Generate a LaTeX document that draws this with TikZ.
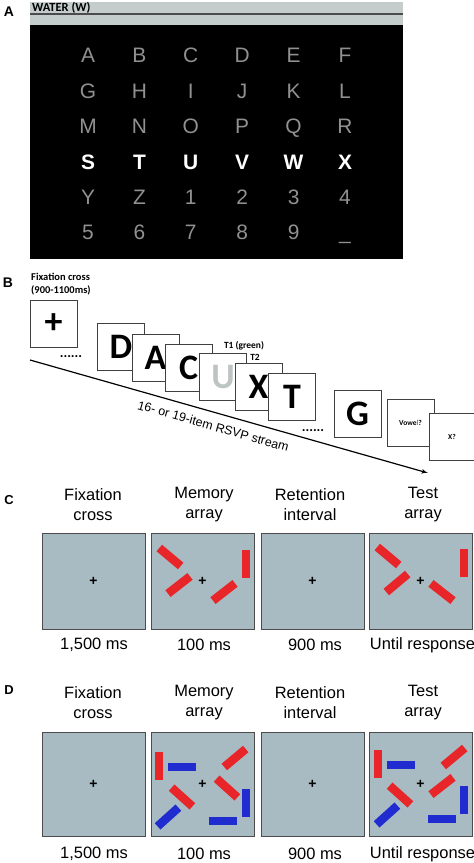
\documentclass[tikz,border=0pt]{standalone}
\usepackage{fontspec}
\setmainfont{Liberation Sans}
\newfontfamily\calfont{Carlito}
\usepackage{tikz}
\usetikzlibrary{arrows}

\definecolor{screengray}{RGB}{168,187,195}
\definecolor{headgray}{RGB}{196,204,204}
\definecolor{keygray}{RGB}{145,145,145}
\definecolor{paleu}{RGB}{190,196,196}
\definecolor{stickred}{RGB}{232,38,42}
\definecolor{stickblue}{RGB}{32,44,208}
\definecolor{vowelgreen}{RGB}{90,150,60}

\tikzset{
	panel/.style={font=\bfseries\fontsize{14}{14}\selectfont, inner sep=0pt},
	key/.style={anchor=base, text=keygray, font=\fontsize{21}{21}\selectfont, inner sep=0pt},
	litkey/.style={key, text=white, font=\bfseries\fontsize{21}{21}\selectfont},
	card/.style={draw=black!75, fill=white, line width=0.8pt, minimum width=47bp, minimum height=47bp, inner sep=0pt},
	cardletter/.style={font=\calfont\bfseries\fontsize{36}{36}\selectfont},
	note/.style={font=\calfont\bfseries\fontsize{10.5}{13}\selectfont, align=left, inner sep=0pt},
	screen/.style={draw=black!70, fill=screengray, line width=1pt, minimum width=103bp, inner sep=0pt, font=\bfseries\fontsize{14}{14}\selectfont},
	head/.style={font=\fontsize{16.5}{20}\selectfont, align=center, inner sep=0pt},
	redstick/.style={fill=stickred, minimum width=28bp, minimum height=8.5bp, inner sep=0pt},
	bluestick/.style={fill=stickblue, minimum width=28bp, minimum height=8.5bp, inner sep=0pt},
}

\begin{document}
\begin{tikzpicture}[>=latex']
	\useasboundingbox (0bp,0bp) rectangle (474bp,-863bp);

	% A: speller
	\node (labA) at (9bp,-12bp) [panel] {A};
	\fill [headgray] (30bp,-2bp) rectangle (403bp,-25bp);
	\draw [black!70, line width=1.5pt] (30bp,-14bp) -- (403bp,-14bp);
	\node (word) at (32bp,-7.5bp) [anchor=west, inner sep=0pt, font=\calfont\bfseries\fontsize{12.5}{12.5}\selectfont] {WATER (W)};
	\fill [black] (30bp,-25bp) rectangle (403bp,-259bp);
	\foreach \k [count=\c from 0] in {A,B,C,D,E,F}
		\node (keya-\c) at (88bp+\c*51.4bp,-62.5bp) [key] {\k};
	\foreach \k [count=\c from 0] in {G,H,I,J,K,L}
		\node (keyb-\c) at (88bp+\c*51.4bp,-98bp) [key] {\k};
	\foreach \k [count=\c from 0] in {M,N,O,P,Q,R}
		\node (keyc-\c) at (88bp+\c*51.4bp,-133.5bp) [key] {\k};
	\foreach \k [count=\c from 0] in {S,T,U,V,W,X}
		\node (keyd-\c) at (88bp+\c*51.4bp,-169.5bp) [litkey] {\k};
	\foreach \k [count=\c from 0] in {Y,Z,1,2,3,4}
		\node (keye-\c) at (88bp+\c*51.4bp,-204.5bp) [key] {\k};
	\foreach \k [count=\c from 0] in {5,6,7,8,9,\_}
		\node (keyf-\c) at (88bp+\c*51.4bp,-239.5bp) [key] {\k};

	% B: RSVP stream
	\node (labB) at (8bp,-283bp) [panel] {B};
	\node (fixnote) at (31bp,-284bp) [note, anchor=west] {Fixation cross\\(900-1100ms)};
	\node (fix) at (53.5bp,-324bp) [card, cardletter] {+};
	\node (dots1) at (71bp,-357bp) [inner sep=0pt, font=\calfont\bfseries\fontsize{14}{14}\selectfont] {......};

	\node (cd) at (121bp,-346.5bp) [card, cardletter] {D};
	\node (ca) at (155.5bp,-357.5bp) [card, cardletter] {A};
	\node (cc) at (188.5bp,-367.5bp) [card, cardletter] {C};
	\node (cu) at (223bp,-376.5bp) [card, cardletter, text=paleu] {U};
	\node (cx) at (258.5bp,-386.5bp) [card, cardletter] {X};
	\node (ct) at (292bp,-396.5bp) [card, cardletter] {T};
	\node (tone) at (244bp,-346bp) [inner sep=0pt, font=\calfont\bfseries\fontsize{9.5}{9.5}\selectfont] {T1 (green)};
	\node (ttwo) at (255bp,-357bp) [inner sep=0pt, font=\calfont\bfseries\fontsize{9.5}{9.5}\selectfont] {T2};

	\node (dots2) at (313bp,-431bp) [inner sep=0pt, font=\calfont\bfseries\fontsize{14}{14}\selectfont] {......};
	\node (cg) at (357.5bp,-413.5bp) [card, cardletter] {G};
	\node (vowel) at (410.5bp,-423bp) [card, font=\calfont\bfseries\fontsize{7.5}{8}\selectfont] {Vowe{\color{vowelgreen}l}?};
	\node (xq) at (452bp,-436.5bp) [card, minimum width=45bp, font=\calfont\bfseries\fontsize{7.5}{8}\selectfont] {X?};

	\coordinate (streamstart) at (30bp,-360bp);
	\coordinate (streamend) at (428bp,-473bp);
	\draw [->, line width=1.2pt] (streamstart) to node[sloped, below=5bp, pos=0.47, font=\fontsize{12.5}{12.5}\selectfont] {16- or 19-item RSVP stream} (streamend);

	% C: one colour
	\node (labC) at (9bp,-500bp) [panel, font=\bfseries\fontsize{13}{13}\selectfont] {C};
	\node (cfixhead) at (93bp,-505bp) [head] {Fixation\\cross};
	\node (cmemhead) at (204bp,-505bp) [head] {Memory\\array};
	\node (crethead) at (310bp,-505bp) [head] {Retention\\interval};
	\node (ctesthead) at (423bp,-505bp) [head] {Test\\array};

	\node (cfix) at (93.5bp,-581bp) [screen, minimum height=96bp] {+};
	\node (cmem) at (202.5bp,-581bp) [screen, minimum height=96bp] {+};
	\node (cret) at (312.5bp,-581bp) [screen, minimum height=96bp] {+};
	\node (ctest) at (420.5bp,-581bp) [screen, minimum height=96bp] {+};

	\node (cmem1) at (170bp,-557bp) [redstick, rotate=-40] {};
	\node (cmem2) at (179bp,-585bp) [redstick, rotate=38] {};
	\node (cmem3) at (246bp,-564bp) [redstick, rotate=90] {};
	\node (cmem4) at (224bp,-592bp) [redstick, rotate=38] {};

	\node (ctest1) at (388bp,-556bp) [redstick, rotate=-40] {};
	\node (ctest2) at (397bp,-583bp) [redstick, rotate=40] {};
	\node (ctest3) at (464bp,-563bp) [redstick, rotate=90] {};
	\node (ctest4) at (442bp,-592bp) [redstick, rotate=-38] {};

	\node (cfixtime) at (94bp,-645bp) [head] {1,500 ms};
	\node (cmemtime) at (204bp,-645bp) [head] {100 ms};
	\node (crettime) at (315bp,-645bp) [head] {900 ms};
	\node (ctesttime) at (422.5bp,-645bp) [head] {Until response};

	% D: two colours
	\node (labD) at (9bp,-690bp) [panel, font=\bfseries\fontsize{13}{13}\selectfont] {D};
	\node (dfixhead) at (93bp,-702.5bp) [head] {Fixation\\cross};
	\node (dmemhead) at (204bp,-702.5bp) [head] {Memory\\array};
	\node (drethead) at (310bp,-702.5bp) [head] {Retention\\interval};
	\node (dtesthead) at (423bp,-702.5bp) [head] {Test\\array};

	\node (dfix) at (93.5bp,-784bp) [screen, minimum height=104bp] {+};
	\node (dmem) at (202.5bp,-784bp) [screen, minimum height=104bp] {+};
	\node (dret) at (312.5bp,-784bp) [screen, minimum height=104bp] {+};
	\node (dtest) at (420.5bp,-784bp) [screen, minimum height=104bp] {+};

	\node (dmem1) at (159bp,-766bp) [redstick, rotate=90] {};
	\node (dmem2) at (182bp,-767bp) [bluestick] {};
	\node (dmem3) at (235bp,-758bp) [redstick, rotate=40] {};
	\node (dmem4) at (182bp,-797bp) [redstick, rotate=-42] {};
	\node (dmem5) at (227bp,-788bp) [redstick, rotate=-42] {};
	\node (dmem6) at (246bp,-803bp) [bluestick, rotate=90] {};
	\node (dmem7) at (168bp,-817bp) [bluestick, rotate=42] {};
	\node (dmem8) at (223bp,-821bp) [bluestick] {};

	\node (dtest1) at (378bp,-764bp) [redstick, rotate=90] {};
	\node (dtest2) at (401bp,-765bp) [bluestick] {};
	\node (dtest3) at (454bp,-757bp) [redstick, rotate=40] {};
	\node (dtest4) at (400bp,-795bp) [redstick, rotate=-42] {};
	\node (dtest5) at (442bp,-786bp) [redstick, rotate=38] {};
	\node (dtest6) at (464bp,-800bp) [bluestick, rotate=90] {};
	\node (dtest7) at (387bp,-815bp) [bluestick, rotate=42] {};
	\node (dtest8) at (442bp,-819bp) [bluestick] {};

	\node (dfixtime) at (94bp,-854bp) [head] {1,500 ms};
	\node (dmemtime) at (204bp,-854bp) [head] {100 ms};
	\node (drettime) at (315bp,-854bp) [head] {900 ms};
	\node (dtesttime) at (422.5bp,-854bp) [head] {Until response};
\end{tikzpicture}
\end{document}
